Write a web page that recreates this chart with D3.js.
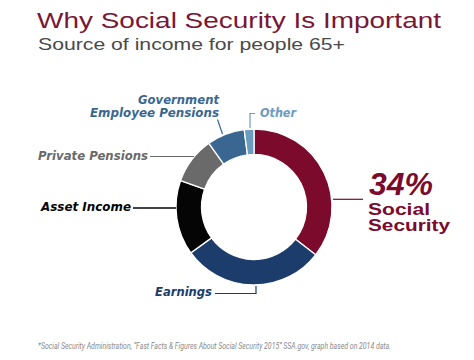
<!DOCTYPE html>
<html><head><meta charset="utf-8">
<script src="https://cdn.jsdelivr.net/npm/d3@7"></script>
<style>body{margin:0;background:#fff}svg{display:block}</style>
</head><body>
<svg id="c" width="474" height="360"></svg>
<script>
const categories = ["Social Security","Earnings","Asset Income","Private Pensions","Government Employee Pensions","Other"];
const values = [35.5, 29.5, 15.5, 9.7, 7.8, 2.0];
const colors = ["#7b0a2c","#1c3d6c","#050505","#6a6a6a","#3a6791","#6c9bc0"];
const titleText = "Why Social Security Is Important";
const subtitleText = "Source of income for people 65+";
const headline = "34%";
const footnote = "*Social Security Administration, \u201cFast Facts & Figures About Social Security 2015\u201d SSA.gov, graph based on 2014 data.";

const svg = d3.select("#c");
const cx = 254, cy = 207, rO = 78, rI = 52.5;

svg.append("text").attr("x",37).attr("y",27.5)
  .attr("font-family","Liberation Sans, Arial, sans-serif").attr("font-size",22.5)
  .attr("fill","#7a1636").attr("textLength",404).attr("lengthAdjust","spacingAndGlyphs").text(titleText);
svg.append("text").attr("x",38).attr("y",50)
  .attr("font-family","Liberation Sans, Arial, sans-serif").attr("font-size",17)
  .attr("fill","#4a4a4a").attr("textLength",307).attr("lengthAdjust","spacingAndGlyphs").text(subtitleText);

const pie = d3.pie().sort(null).value(d=>d).startAngle(0).endAngle(2*Math.PI);
const arc = d3.arc().innerRadius(rI).outerRadius(rO);
const g = svg.append("g").attr("transform",`translate(${cx},${cy})`);
g.selectAll("path").data(pie(values)).join("path")
  .attr("d",arc).attr("fill",(d,i)=>colors[i]).attr("stroke","#fff").attr("stroke-width",1.3);

function label(x,y,txt,color,size,len,anchor,weight){
  const t = svg.append("text").attr("x",x).attr("y",y).attr("fill",color).attr("font-size",size)
    .attr("font-family","DejaVu Sans, Verdana, sans-serif").attr("font-style","italic")
    .attr("font-weight",weight||"bold").attr("text-anchor",anchor||"start").text(txt);
  if(len) t.attr("textLength",len).attr("lengthAdjust","spacingAndGlyphs");
  return t;
}
function line(pts,color,w){
  svg.append("path").attr("d",d3.line()(pts)).attr("fill","none").attr("stroke",color).attr("stroke-width",w||1.2);
}

// Government Employee Pensions
label(219,104,"Government",colors[4],12,81,"end");
label(219,116.5,"Employee Pensions",colors[4],12,129,"end");
line([[217.5,119.5],[222.5,134]],colors[4]);
// Other
line([[250,128],[250,113.5],[255,113.5]],colors[5]);
label(260,117,"Other",colors[5],12.5,36);
// Private Pensions
label(148,160,"Private Pensions",colors[3],12.5,110,"end");
line([[150,156.5],[194,156.5]],colors[3]);
// Asset Income
label(131,211,"Asset Income",colors[2],12.5,90,"end");
line([[133,208],[176,208]],colors[2],1.4);
// Earnings
label(155,296,"Earnings",colors[1],12.5,57);
line([[215,293.5],[256,293.5],[256,286]],colors[1]);
// Social Security
line([[333,199.3],[363,199.3]],colors[0]);
svg.append("text").attr("x",369).attr("y",194.5).attr("fill",colors[0])
  .attr("font-family","Liberation Sans Narrow, Liberation Sans, Arial, sans-serif")
  .attr("font-weight","bold").attr("font-style","italic").attr("font-size",31)
  .attr("textLength",64).attr("lengthAdjust","spacingAndGlyphs").text(headline);
svg.append("text").attr("x",368).attr("y",214.5).attr("fill",colors[0])
  .attr("font-family","Liberation Sans, Arial, sans-serif").attr("font-weight","bold").attr("font-size",16)
  .attr("textLength",62).attr("lengthAdjust","spacingAndGlyphs").text("Social");
svg.append("text").attr("x",368).attr("y",231).attr("fill",colors[0])
  .attr("font-family","Liberation Sans, Arial, sans-serif").attr("font-weight","bold").attr("font-size",16.5)
  .attr("textLength",82).attr("lengthAdjust","spacingAndGlyphs").text("Security");

svg.append("text").attr("x",38).attr("y",349).attr("fill","#8a8a8a")
  .attr("font-family","Roboto, Liberation Sans, sans-serif").attr("font-style","italic").attr("font-size",8.3)
  .attr("textLength",353).attr("lengthAdjust","spacingAndGlyphs").text(footnote);
</script>
</body></html>
